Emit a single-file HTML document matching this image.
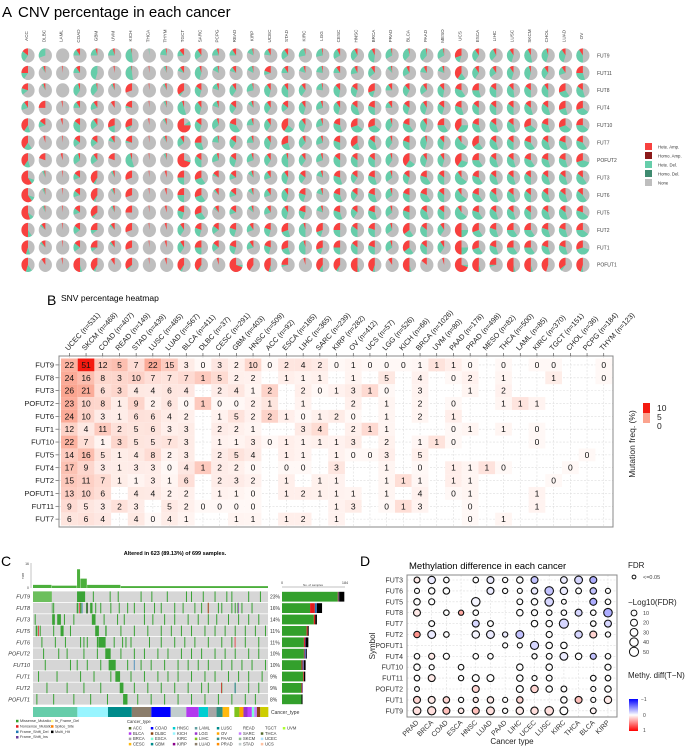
<!DOCTYPE html>
<html><head><meta charset="utf-8">
<style>
html,body{margin:0;padding:0;background:#fff;}
svg{display:block;font-family:"Liberation Sans",Arial,sans-serif;}
</style></head>
<body>
<svg id="fig" width="685" height="747" viewBox="0 0 685 747" xmlns="http://www.w3.org/2000/svg">
<g id="panelA">
<text x="2" y="17" font-size="15">A</text>
<text x="18" y="17" font-size="15">CNV percentage in each cancer</text>
</g>
<g id="panelB">
<text x="47" y="305" font-size="14">B</text>
<text x="61" y="301" font-size="8.5">SNV percentage heatmap</text>
</g>
<g id="panelC">
<text x="1" y="566" font-size="14">C</text>
<text x="175" y="555" font-size="5.5" font-weight="bold" text-anchor="middle">Altered in 623 (89.13%) of 699 samples.</text>
</g>
<g id="panelD">
<text x="360" y="566" font-size="14">D</text>
<text x="409" y="569" font-size="9.5">Methylation difference in each cancer</text>
</g>
</svg>
<script>
// ================= PANEL A DATA =================
const cnvCancers = ["ACC","DLBC","LAML","COAD","GBM","UVM","KICH","THCA","THYM","TGCT","SARC","PCPG","READ","KIRP","UCEC","STAD","KIRC","LGG","CESC","HNSC","BRCA","PRAD","BLCA","PAAD","MESO","UCS","ESCA","LIHC","LUSC","SKCM","CHOL","LUAD","OV"];
const cnvGenes = ["FUT9","FUT11","FUT8","FUT4","FUT10","FUT7","POFUT2","FUT3","FUT6","FUT5","FUT2","FUT1","POFUT1"];
const cnvAmp = [
[15,0,0,10,5,5,2,0,3,12,10,5,10,3,8,10,3,3,8,8,8,3,3,3,3,30,10,8,10,8,5,10,10],
[25,5,2,10,0,3,2,2,3,10,5,3,10,3,20,10,5,3,10,8,10,3,8,8,5,40,10,10,10,5,10,10,25],
[20,5,0,5,3,5,30,2,5,35,15,5,10,3,10,10,10,3,12,15,30,10,12,10,12,20,25,15,12,15,10,30,15],
[10,25,3,10,10,10,20,2,3,5,10,5,15,5,10,15,10,5,10,15,20,10,15,10,15,20,15,15,15,15,15,30,30],
[40,15,5,15,10,30,30,3,5,75,15,5,20,5,10,40,10,5,20,30,30,5,20,10,25,40,20,15,15,30,20,30,25],
[40,5,2,15,15,10,20,2,5,10,25,3,15,5,10,30,8,5,20,35,15,5,20,5,12,10,35,15,15,20,15,20,20],
[40,20,5,5,10,20,5,2,3,70,15,5,15,5,10,5,10,5,15,15,15,5,40,10,10,40,25,15,15,20,20,20,30],
[60,3,2,15,40,5,30,2,5,25,30,15,15,5,10,10,15,5,20,15,20,5,15,20,15,10,20,15,15,15,15,15,15],
[60,3,2,15,40,5,30,2,5,25,30,10,15,5,10,10,20,5,20,15,20,5,20,20,15,10,20,15,15,15,15,15,15],
[55,3,2,15,35,5,25,2,5,20,30,10,15,5,10,10,20,5,20,15,20,5,20,15,15,10,20,15,15,15,15,15,20],
[50,10,2,15,25,10,30,2,5,10,20,15,20,10,20,30,5,30,25,15,20,5,35,15,10,50,30,20,25,25,20,20,25],
[45,10,2,15,25,10,30,2,5,10,25,15,20,10,20,30,5,30,25,15,20,5,35,15,10,50,30,20,25,25,20,20,30],
[45,10,3,50,40,10,35,2,5,40,40,5,70,40,45,25,5,40,40,50,45,10,50,15,5,70,50,25,50,50,45,35,45]
];
const cnvDel = [
[25,30,0,15,20,20,50,2,20,15,25,20,15,15,15,25,25,25,25,30,40,30,35,35,30,15,30,30,35,45,40,35,40],
[15,5,0,15,45,0,50,0,5,10,40,15,10,15,10,15,15,20,15,20,25,10,25,15,15,20,30,25,35,40,30,20,30],
[15,5,0,35,35,5,0,0,5,5,30,15,30,25,35,40,30,20,35,30,15,15,30,25,35,40,30,35,40,35,40,30,40],
[20,0,0,15,20,0,5,0,5,50,35,15,25,10,30,20,35,25,35,40,30,15,30,35,30,35,35,35,35,40,40,25,35],
[15,15,0,35,25,20,10,0,5,10,30,30,40,20,30,25,35,25,35,35,35,35,40,35,35,35,35,40,40,35,35,35,40],
[20,0,0,20,20,10,5,0,5,25,30,20,25,20,35,25,30,25,30,20,40,35,30,40,35,55,25,40,35,40,40,35,40],
[15,0,0,30,25,0,50,0,5,5,35,25,30,25,30,45,30,25,35,35,35,35,25,35,35,30,35,40,40,40,35,35,40],
[10,5,0,15,5,5,0,0,0,25,30,5,15,10,20,35,25,15,35,25,35,30,30,40,35,55,40,40,40,35,40,40,45],
[10,5,0,15,5,5,0,0,0,25,30,5,15,10,20,35,25,15,35,25,35,30,30,40,35,55,40,40,40,35,40,40,45],
[10,5,0,15,5,5,0,0,0,25,30,5,15,10,20,35,25,15,35,25,35,30,30,40,35,55,40,40,40,35,40,40,45],
[10,5,0,20,10,5,0,0,0,30,25,20,25,20,25,25,45,15,25,35,30,30,25,35,30,25,30,35,35,35,35,35,40],
[10,5,0,20,10,5,0,0,0,30,25,20,25,20,25,25,45,15,25,35,30,30,25,35,30,25,30,35,35,35,35,35,40],
[15,0,0,5,5,0,5,0,0,5,5,0,5,0,5,5,0,10,5,5,5,0,5,0,0,5,5,5,5,5,0,5,5]
];
const cnvLegend = ["Hete. Amp.","Homo. Amp.","Hete. Del.","Homo. Del.","None"];
const cnvLegendColors = ["#f8413f","#8b1a1a","#66cdaa","#3f8b70","#bebebe"];

// ================= PANEL B DATA =================
const _ = null;
const snvCancers = ["UCEC","SKCM","COAD","READ","STAD","LUSC","LUAD","BLCA","DLBC","CESC","GBM","HNSC","ACC","ESCA","LIHC","SARC","KIRP","OV","UCS","LGG","KICH","BRCA","UVM","PAAD","PRAD","MESO","THCA","LAML","KIRC","TGCT","CHOL","PCPG","THYM"];
const snvN = [531,468,407,149,439,485,567,411,37,291,403,509,92,185,365,239,282,412,57,526,66,1026,80,178,498,82,500,85,370,151,36,184,123];
const snvGenes = ["FUT9","FUT8","FUT3","POFUT2","FUT6","FUT1","FUT10","FUT5","FUT4","FUT2","POFUT1","FUT11","FUT7"];
const snvFUT9 = [22,51,12,5,7,22,15,3,0,3,2,10,0,2,4,2,0,1,0,0,0,1,1,1,0,_,0,_,0,0,_,_,0];
const snvFUT8 = [24,16,8,3,10,7,7,7,1,5,2,2,_,1,1,1,_,1,_,5,_,4,_,0,2,_,1,_,_,1,_,_,0];
const snvFUT3 = [26,21,6,3,4,4,6,4,_,2,4,1,2,_,2,0,1,3,1,0,_,3,_,_,1,_,2,_,_,_,_,_,_];
const snvPOFUT2 = [23,10,8,1,9,2,6,0,1,0,0,2,1,_,1,_,_,2,_,1,_,2,_,0,_,_,1,1,1,_,_,_,_];
const snvFUT6 = [24,10,3,1,6,6,4,2,_,1,5,2,2,1,0,1,2,0,_,1,_,2,_,1,_,_,_,_,_,_,_,_,_];
const snvFUT1 = [12,4,11,2,5,6,3,3,_,2,2,1,_,_,3,4,_,2,1,1,_,_,_,0,1,_,1,_,0,_,_,_,_];
const snvFUT10 = [22,7,1,3,5,5,7,3,_,1,1,3,0,1,1,1,1,3,_,2,_,1,1,0,_,_,_,_,0,_,_,_,_];
const snvFUT5 = [14,16,5,1,4,8,2,3,_,2,5,4,_,1,1,_,1,0,0,3,_,5,_,_,_,_,_,_,_,_,_,0,_];
const snvFUT4 = [17,9,3,1,3,3,0,4,1,2,2,0,_,0,0,_,3,_,_,1,_,0,_,1,1,1,0,_,_,_,0,_,_];
const snvFUT2 = [15,11,7,1,1,3,1,6,_,2,3,2,_,1,_,1,1,_,_,1,1,1,_,1,1,_,_,_,_,0,_,_,_];
const snvPOFUT1 = [13,10,6,_,4,4,2,2,_,1,1,0,_,1,2,1,1,1,_,1,_,4,_,0,1,_,_,_,1,_,_,_,_];
const snvFUT11 = [9,5,3,2,3,_,5,2,0,0,0,0,_,_,_,_,1,3,_,0,1,3,_,_,0,_,_,_,1,_,_,_,_];
const snvFUT7 = [6,6,4,_,4,0,4,1,_,_,1,1,_,1,2,_,1,_,_,_,_,_,_,_,0,_,1,_,_,_,_,_,_];
const snvRows = [snvFUT9,snvFUT8,snvFUT3,snvPOFUT2,snvFUT6,snvFUT1,snvFUT10,snvFUT5,snvFUT4,snvFUT2,snvPOFUT1,snvFUT11,snvFUT7];
const snvLegendTicks = [10,5,0];

// ================= PANEL C DATA =================
const oncoGenes = ["FUT9","FUT8","FUT3","FUT5","FUT6","POFUT2","FUT10","FUT1","FUT2","POFUT1"];
const oncoPct = ["23%","16%","14%","11%","11%","10%","10%","9%","9%","8%"];
const oncoTotal = 699;
const oncoMaxBar = 184;
const barMissense = [163,82,93,72,64,64,57,62,57,57];
const barNonsense = [2,14,4,3,3,2,3,2,2,0];
const barFsDel = [2,5,0,0,0,3,2,0,0,0];
const barFsIns = [0,1,0,0,2,2,2,0,2,0];
const barMulti = [15,15,5,3,8,2,5,4,0,3];
const runsFUT9 = [[0,55],[131,154],[178,180],[228,230],[252,254],[320,322],[352,354],[398,400],[455,457],[470,472],[505,507],[540,542],[575,577],[590,592],[640,642],[675,677]];
const runsFUT8 = [[56,57],[60,62],[130,134],[140,143],[158,162],[170,176],[185,187],[200,202],[230,232],[255,257],[280,282],[300,302],[330,332],[360,362],[380,382],[420,422],[445,447],[480,482],[500,502],[520,522],[550,552],[560,562],[590,592],[600,602],[608,610],[620,622],[650,652]];
const runsFUT3 = [[5,7],[57,64],[72,82],[92,94],[120,122],[175,185],[210,212],[250,252],[270,272],[330,332],[355,357],[390,392],[420,422],[460,462],[490,492],[520,522],[545,547],[580,582],[610,612],[640,642],[670,672]];
const runsFUT5 = [[8,12],[20,22],[60,62],[82,90],[110,112],[185,195],[215,218],[260,262],[300,302],[340,342],[380,382],[410,412],[440,442],[470,472],[510,512],[540,542],[570,572],[600,602],[630,632],[660,662],[690,692]];
const runsFUT6 = [[25,27],[65,67],[95,97],[140,142],[150,152],[160,162],[190,193],[195,215],[240,242],[265,267],[275,277],[290,292],[345,347],[380,382],[420,422],[450,452],[480,482],[520,522],[560,562],[590,592],[630,632],[670,672]];
const runsPOFUT2 = [[30,32],[75,77],[100,102],[150,152],[190,192],[215,230],[260,262],[300,302],[330,332],[370,372],[400,402],[440,442],[470,472],[500,502],[540,542],[570,572],[600,602],[640,642],[670,672]];
const runsFUT10 = [[35,37],[110,112],[130,132],[160,162],[200,202],[225,245],[280,282],[320,322],[350,352],[390,392],[430,432],[460,462],[490,492],[520,522],[560,562],[590,592],[620,622],[650,652],[690,692]];
const runsFUT1 = [[15,17],[70,72],[140,142],[180,182],[230,232],[245,258],[290,292],[330,332],[370,372],[400,402],[430,432],[470,472],[510,512],[540,542],[580,582],[610,612],[640,642],[680,682]];
const runsFUT2 = [[40,42],[100,102],[150,152],[200,202],[258,268],[300,302],[340,342],[380,382],[420,422],[460,462],[500,502],[520,522],[560,562],[600,602],[640,642],[670,672]];
const runsPOFUT1 = [[10,12],[60,62],[120,122],[170,172],[220,222],[268,280],[310,312],[350,352],[390,392],[430,432],[470,472],[510,512],[550,552],[590,592],[630,632],[660,662]];
const oncoRuns = [runsFUT9,runsFUT8,runsFUT3,runsFUT5,runsFUT6,runsPOFUT2,runsFUT10,runsFUT1,runsFUT2,runsPOFUT1];
const oncoOther = [[1,138,"#e41a1c"],[1,145,"#1f78b4"],[1,160,"#222"],[3,15,"#e41a1c"],[1,520,"#e41a1c"],[1,610,"#8e44ad"],[6,300,"#1f78b4"],[8,560,"#e41a1c"],[8,600,"#1f78b4"],[4,600,"#e41a1c"]];
const tmbRuns = [[0,55,2],[56,130,1.5],[131,140,12],[141,160,6],[161,260,2],[261,699,1.2]];
const tmbMax = 16;
const ctNames = ["UCEC","SKCM","LUSC","STAD","COAD","LUAD","LGG","HNSC","BRCA","KIRC","CESC","gap","LIHC","PRAD","SARC","BLCA","ESCA","OV","READ","misc"];
const ctCounts = [132,91,71,58,57,47,37,28,25,18,20,15,15,12,12,13,7,8,10,24];
const ctColors = ["#66cdaa","#98f5ff","#008b8b","#8b7d6b","#0000ff","#c1cdcd","#b23aee","#00ced1","#a6a6a6","#2f8f83","#ffb90f","#ffffff","#7fc31c","#ffa500","#9a32cd","#bf3eff","#7fffd4","#c77dff","#8b4513","#cdcd00"];
const mutLegend = ["Missense_Mutation","Nonsense_Mutation","Frame_Shift_Del","Frame_Shift_Ins","In_Frame_Del","Splice_Site","Multi_Hit"];
const mutLegendColors = ["#33a02c","#e31a1c","#1f78b4","#6a3d9a","#ffff99","#ff7f00","#000000"];
const ctLegend = ["ACC","BLCA","BRCA","CESC","COAD","DLBC","ESCA","GBM","HNSC","KICH","KIRC","KIRP","LAML","LGG","LIHC","LUAD","LUSC","OV","PAAD","PRAD","READ","SARC","SKCM","STAD","TGCT","THCA","UCEC","UCS","UVM"];
const ctLegendColors = ["#556b2f","#b23aee","#a6a6a6","#ffb90f","#0000ff","#8b4513","#7fffd4","#008b8b","#00ced1","#98f5ff","#ffffff","#8b008b","#5f9ea0","#9a32cd","#7fc31c","#8b7d6b","#008b8b","#ffa500","#2f8f83","#ff8c00","#ffffff","#c77dff","#8fbc8f","#c1cdcd","#ffffff","#556b2f","#b0e2ff","#ffc1a0","#adff2f"];

// ================= PANEL D DATA =================
const methCancers = ["PRAD","BRCA","COAD","ESCA","HNSC","LUAD","PAAD","LIHC","UCEC","LUSC","KIRC","THCA","BLCA","KIRP"];
const methGenes = ["FUT3","FUT6","FUT5","FUT8","FUT7","FUT2","POFUT1","FUT4","FUT10","FUT11","POFUT2","FUT1","FUT9"];
const methSize = [
[10,25,8,0,8,20,6,15,20,0,18,30,20,0],
[5,15,15,0,0,20,6,5,15,40,25,10,15,5],
[15,12,0,0,40,0,0,10,15,40,4,0,20,8],
[20,0,8,6,8,0,0,15,12,8,8,20,8,40],
[0,10,0,0,20,10,0,0,15,15,50,0,8,20],
[15,30,8,0,25,30,6,30,0,12,0,25,20,6],
[0,0,0,0,0,0,5,5,35,15,15,0,0,0],
[8,12,12,0,8,8,0,0,6,10,30,15,12,8],
[15,5,0,8,0,0,0,15,0,15,0,0,0,12],
[8,20,0,6,20,20,0,15,5,10,0,0,8,8],
[4,0,0,0,20,0,0,20,25,15,10,0,5,15],
[20,20,15,6,6,15,5,15,0,0,15,20,5,25],
[30,35,20,8,20,30,6,25,25,40,30,0,10,0]
];
const methDiff = [
[0.1,-0.1,0,0,0,-0.1,0,0,-0.3,0,-0.1,-0.2,-0.4,0],
[0,0,0,0,0,-0.1,0,0,-0.1,-0.3,-0.1,0,-0.3,0],
[0,0,0,0,-0.05,0,0,0,0,-0.2,0,0,-0.4,0],
[0.1,0,0,0.4,0,0,0,0,0,0,0,-0.2,0,-0.4],
[0,0,0,0,-0.2,0,0,0,0,0,-0.2,0,0,-0.2],
[0.5,-0.1,0,0,-0.05,-0.1,-0.1,-0.3,0,0,0,-0.2,0.2,0],
[0,0,0,0,0,0,0,0,-0.2,0,0,0,0,0],
[0,0.1,0,0,0,0,0,0,0,0,-0.1,0,-0.3,0],
[0,0,0,0,0,0,0,0,0,0,0,0,0,0],
[0,0.1,0,0,0,0,0,0,0,0,0,0,0,0],
[0,0,0,0,0.2,0,0,0,0.2,0,0,0,0,0],
[0.2,0.1,0.2,0,0.1,0.1,0,0.2,0,0,0,0.3,0,0.1],
[0.15,0.15,0.3,0.1,0.3,0.15,0,0.1,0.15,0.15,0,0,0.05,0]
];
const methSizeLegend = [10,20,30,40,50];

// ================= RENDERING =================
const NS = "http://www.w3.org/2000/svg";
function mk(tag, attrs, parent){ const e=document.createElementNS(NS,tag); for(const k in attrs) e.setAttribute(k,attrs[k]); parent.appendChild(e); return e; }
function txt(s, attrs, parent){ const e=mk("text",attrs,parent); e.textContent=s; return e; }
function hex(c){ return [parseInt(c.substr(1,2),16),parseInt(c.substr(3,2),16),parseInt(c.substr(5,2),16)]; }
function lerp(c1,c2,t){ const a=hex(c1),b=hex(c2); return "rgb("+a.map((v,i)=>Math.round(v+(b[i]-v)*t)).join(",")+")"; }

// ---- Panel A ----
(function(){
  const g=document.getElementById("panelA");
  const ax = i => 28 + i*17.34;
  const ay = j => 55.5 + j*17.45;
  const rx=6.6, ry=7.1;
  cnvCancers.forEach((c,i)=>{
    const t=txt(c,{x:ax(i),y:36,"font-size":4.6,"text-anchor":"middle",fill:"#444",transform:"rotate(-90 "+ax(i)+" 36)"},g);
    
    
  });
  cnvGenes.forEach((gn,j)=>{
    const t=txt(gn,{x:597,y:ay(j)+1.8,"font-size":5,fill:"#444"},g);
    
    
    cnvCancers.forEach((c,i)=>{
      const cx=ax(i), cy=ay(j);
      const pg=mk("g",{},g);
      
      
      mk("ellipse",{cx:cx,cy:cy,rx:rx,ry:ry,fill:"#bebebe"},pg);
      const pt = th => [cx+rx*Math.sin(th), cy-ry*Math.cos(th)];
      function sector(a0,a1,col){
        if(a1-a0<=0) return;
        if(a1-a0>=0.999){ mk("ellipse",{cx:cx,cy:cy,rx:rx,ry:ry,fill:col},pg); return; }
        const t0=-a0*2*Math.PI, t1=-a1*2*Math.PI;
        const p0=pt(t0), p1=pt(t1);
        const large=(a1-a0)>0.5?1:0;
        mk("path",{d:`M${cx},${cy}L${p0[0].toFixed(2)},${p0[1].toFixed(2)}A${rx},${ry} 0 ${large} 0 ${p1[0].toFixed(2)},${p1[1].toFixed(2)}Z`,fill:col},pg);
      }
      const a=cnvAmp[j][i]/100, d=cnvDel[j][i]/100;
      sector(0,a,"#f8413f");
      sector(a,a+d,"#66cdaa");
    });
  });
  cnvLegend.forEach((l,k)=>{
    const r=mk("rect",{x:645,y:143+k*9,width:7,height:7,fill:cnvLegendColors[k]},g);
    
    
    const t=txt(l,{x:658,y:148.5+k*9,"font-size":4.3,fill:"#333"},g);
    
    
  });
})();

// ---- Panel B ----
(function(){
  const g=document.getElementById("panelB");
  const cw=16.7, rh=12.85, x0=61, y0=358.5;
  const bx = i => x0 + i*cw;
  const by = j => y0 + j*rh;
  snvCancers.forEach((c,i)=>{ mk("line",{x1:bx(i)+cw/2,x2:bx(i)+cw/2,y1:356,y2:527,stroke:"#ddd","stroke-width":0.6,"stroke-dasharray":"2,1.5"},g); });
  snvGenes.forEach((r,j)=>{ mk("line",{x1:59,x2:613,y1:by(j)+rh/2,y2:by(j)+rh/2,stroke:"#ddd","stroke-width":0.6,"stroke-dasharray":"2,1.5"},g); });
  snvRows.forEach((row,j)=>{
    const t=txt(snvGenes[j],{x:54,y:by(j)+rh/2+2.6,"font-size":7.5,"text-anchor":"end",fill:"#222"},g);
    
    
    mk("line",{x1:55.5,x2:59,y1:by(j)+rh/2,y2:by(j)+rh/2,stroke:"#444","stroke-width":0.6},g);
    row.forEach((v,i)=>{
      if(v===null) return;
      const pct=v/snvN[i]*100, t2=Math.min(pct,10)/10;
      const col = t2<0.5 ? lerp("#fff8f6","#fba38e",t2/0.5) : lerp("#fba38e","#f41a10",(t2-0.5)/0.5);
      const r=mk("rect",{x:bx(i),y:by(j),width:cw,height:rh,fill:col},g);
      
      
      const tv=txt(String(v),{x:bx(i)+cw/2,y:by(j)+rh/2+3,"font-size":8.5,"text-anchor":"middle",fill:"#111"},g);
      
      
    });
  });
  mk("rect",{x:59,y:356,width:554,height:171,fill:"none",stroke:"#888","stroke-width":1},g);
  snvCancers.forEach((c,i)=>{
    const cx=bx(i)+cw/2;
    mk("line",{x1:cx,x2:cx,y1:353,y2:356,stroke:"#444","stroke-width":0.6},g);
    const t=txt(c+" (n="+snvN[i]+")",{x:cx-1,y:351,"font-size":7.3,fill:"#222",transform:"rotate(-48 "+(cx-1)+" 351)"},g);
    
    
  });
  const lc=["#f41a10","#fba38e","#ffffff"];
  snvLegendTicks.forEach((v,k)=>{
    if(k<2){ const r=mk("rect",{x:643,y:403+k*10,width:7,height:10,fill:lc[k]},g);
      
       }
    const t=txt(String(v),{x:657,y:411+k*9,"font-size":8.5,fill:"#222"},g);
    
    
  });
  const lt=txt("Mutation freq. (%)",{x:635,y:444,"font-size":8.5,"text-anchor":"middle",fill:"#222",transform:"rotate(-90 635 444)"},g);
  
  
})();

// ---- Panel C ----
(function(){
  const g=document.getElementById("panelC");
  const mx0=33, mx1=268, my0=591, rowH=11.4;
  const sx = s => mx0 + s/oncoTotal*(mx1-mx0);
  const ry = j => my0 + j*rowH;
  mk("line",{x1:31,x2:31,y1:563,y2:588,stroke:"#888","stroke-width":0.5},g);
  txt("16",{x:29,y:565,"font-size":3.5,"text-anchor":"end",fill:"#444"},g);
  txt("0",{x:29,y:589,"font-size":3.5,"text-anchor":"end",fill:"#444"},g);
  txt("TMB",{x:24,y:576,"font-size":3,"text-anchor":"middle",fill:"#444",transform:"rotate(-90 24 576)"},g);
  const tyS = v => 588 - v/tmbMax*25;
  tmbRuns.forEach(r=>{
    const b=mk("rect",{x:sx(r[0]),y:tyS(r[2]),width:sx(r[1])-sx(r[0]),height:588-tyS(r[2]),fill:"#4caf3c"},g);
    
    
  });
  oncoGenes.forEach((gn,j)=>{
    const bg=mk("rect",{x:mx0,y:ry(j)+0.4,width:mx1-mx0,height:rowH-0.8,fill:"#d6d6d6"},g);
    
    
    oncoRuns[j].forEach(r=>{
      const m=mk("rect",{x:sx(r[0]),y:ry(j)+0.4,width:Math.max(0.6,sx(r[1]+1)-sx(r[0])),height:rowH-0.8,fill:(j===0&&r[0]===0)?"#6cbf5c":"#3aa336"},g);
      
      
    });
    const t=txt(gn,{x:30,y:ry(j)+rowH/2+2,"font-size":5.5,"font-style":"italic","text-anchor":"end",fill:"#333"},g);
    
    
    const p=txt(oncoPct[j],{x:270,y:ry(j)+rowH/2+2,"font-size":5,fill:"#333"},g);
    
    
    const bx0=282, bw = v => v/oncoMaxBar*63;
    let cur=bx0;
    [[barMissense,"#33a02c"],[barNonsense,"#e31a1c"],[barFsDel,"#1f78b4"],[barFsIns,"#6a3d9a"],[barMulti,"#000"]].forEach(s=>{
      const w=bw(s[0][j]); if(w<=0) return;
      const b=mk("rect",{x:cur,y:ry(j)+0.8,width:w,height:rowH-1.6,fill:s[1]},g);
      
      
      cur+=w;
    });
  });
  oncoOther.forEach(o=>{
    const m=mk("rect",{x:sx(o[1]),y:ry(o[0])+0.4,width:0.7,height:rowH-0.8,fill:o[2]},g);
    
    
  });
  mk("line",{x1:282,x2:345,y1:587,y2:587,stroke:"#666","stroke-width":0.4},g);
  txt("0",{x:282,y:584,"font-size":3.8,"text-anchor":"middle",fill:"#444"},g);
  txt(String(oncoMaxBar),{x:345,y:584,"font-size":3.8,"text-anchor":"middle",fill:"#444"},g);
  txt("No. of samples",{x:313,y:586,"font-size":3,"text-anchor":"middle",fill:"#444"},g);
  let s=0;
  ctCounts.forEach((c,k)=>{
    const r=mk("rect",{x:sx(s),y:707,width:sx(s+c)-sx(s),height:10,fill:ctColors[k]},g);
    
    
    s+=c;
  });
  const ctl=txt("Cancer_type",{x:271,y:714,"font-size":5,fill:"#333"},g);
  
  
  mutLegend.forEach((l,k)=>{
    const col=k<4?0:1, row=k<4?k:k-4;
    const x=col?51:16, y=722+row*5.4;
    mk("rect",{x:x,y:y-2.2,width:2.5,height:2.5,fill:mutLegendColors[k]},g);
    const t=txt(l,{x:x+4,y:y,"font-size":3.8,fill:"#333"},g);
    
    
  });
  txt("Cancer_type",{x:127,y:723,"font-size":4.2,fill:"#333"},g);
  ctLegend.forEach((l,k)=>{
    const col=Math.floor(k/4), row=k%4;
    const x=130+col*22, y=729.5+row*5.3;
    mk("rect",{x:x-1.2,y:y-2.5,width:2.5,height:2.5,fill:ctLegendColors[k]},g);
    const t=txt(l,{x:x+3,y:y,"font-size":4.2,fill:"#333"},g);
    
    
  });
})();

// ---- Panel D ----
(function(){
  const g=document.getElementById("panelD");
  const dx = i => 417 + i*14.69;
  const dy = j => 580 + j*10.9;
  const rad = v => 1.6 + Math.sqrt(v)*0.42;
  const dcol = d => d<0 ? lerp("#ffffff","#3333ff",Math.min(1,-d)) : lerp("#ffffff","#ff2a1a",Math.min(1,d));
  mk("rect",{x:407,y:575,width:210,height:142,fill:"#fff"},g);
  methCancers.forEach((c,i)=>{ mk("line",{x1:dx(i),x2:dx(i),y1:575,y2:717,stroke:"#ddd","stroke-width":0.6,"stroke-dasharray":"2,1.5"},g); });
  methGenes.forEach((r,j)=>{ mk("line",{x1:407,x2:617,y1:dy(j),y2:dy(j),stroke:"#ddd","stroke-width":0.6,"stroke-dasharray":"2,1.5"},g); });
  mk("rect",{x:407,y:575,width:210,height:142,fill:"none",stroke:"#888","stroke-width":1},g);
  methGenes.forEach((gn,j)=>{
    const t=txt(gn,{x:403,y:dy(j)+2.5,"font-size":7,"text-anchor":"end",fill:"#333"},g);
    
    
    methCancers.forEach((c,i)=>{
      const v=methSize[j][i]; if(!v) return;
      const cc=mk("circle",{cx:dx(i),cy:dy(j),r:rad(v),fill:dcol(methDiff[j][i]),stroke:"#111","stroke-width":1.1},g);
      
      
    });
  });
  methCancers.forEach((c,i)=>{
    const x=dx(i)+2, y=723;
    const t=txt(c,{x:x,y:y,"font-size":7,"text-anchor":"end",fill:"#333",transform:"rotate(-45 "+x+" "+y+")"},g);
    
    
  });
  const xt=txt("Cancer type",{x:512,y:744,"font-size":8,"text-anchor":"middle",fill:"#222"},g);
  
  
  const yt=txt("Symbol",{x:375,y:646,"font-size":8,"text-anchor":"middle",fill:"#222",transform:"rotate(-90 375 646)"},g);
  
  
  txt("FDR",{x:628,y:568,"font-size":8,fill:"#222"},g);
  mk("circle",{cx:634,cy:577,r:1.9,fill:"none",stroke:"#111","stroke-width":1},g);
  txt("<=0.05",{x:643,y:579,"font-size":5.5,fill:"#444"},g);
  txt("−Log10(FDR)",{x:628,y:605,"font-size":8,fill:"#222"},g);
  methSizeLegend.forEach((v,k)=>{
    const y=613+k*9.7;
    const c=mk("circle",{cx:634,cy:y,r:rad(v),fill:"none",stroke:"#111","stroke-width":1},g);
    
    
    txt(String(v),{x:643,y:y+2,"font-size":5.5,fill:"#444"},g);
  });
  txt("Methy. diff(T−N)",{x:628,y:678,"font-size":8,fill:"#222"},g);
  const defs=mk("defs",{},g);
  const lg=mk("linearGradient",{id:"mgrad",x1:0,y1:0,x2:0,y2:1},defs);
  mk("stop",{offset:"0","stop-color":"#0000ff"},lg);
  mk("stop",{offset:"0.5","stop-color":"#ffffff"},lg);
  mk("stop",{offset:"1","stop-color":"#ff0000"},lg);
  const cb=mk("rect",{x:629,y:699,width:9,height:32,fill:"url(#mgrad)"},g);
  
  
  txt("−1",{x:641,y:701,"font-size":5,fill:"#444"},g);
  txt("0",{x:643,y:717,"font-size":5,fill:"#444"},g);
  txt("1",{x:643,y:732,"font-size":5,fill:"#444"},g);
})();
</script>
</body></html>
